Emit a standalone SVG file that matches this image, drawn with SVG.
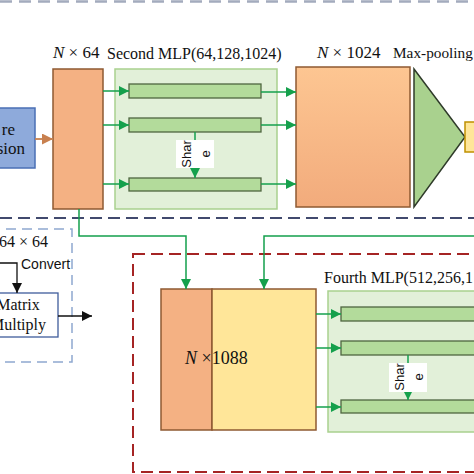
<svg xmlns="http://www.w3.org/2000/svg" width="474" height="474" viewBox="0 0 474 474">
<defs>
<style>
.serif{font-family:"Liberation Serif","Times New Roman",serif;fill:#111}
.sans{font-family:"Liberation Sans",Arial,sans-serif;fill:#111}
.orange{fill:#f4b183;stroke:#8e5a32;stroke-width:1.5}
.yellow{fill:#ffe699;stroke:#8e5a32;stroke-width:1.5}
.mlp{fill:#e2f0d9;stroke:#a9d18e;stroke-width:1.5}
.bar{fill:#b3db9b;stroke:#4f6640;stroke-width:1.3}
.g{stroke:#15a04c;stroke-width:1.5;fill:none}
.k{stroke:#111;stroke-width:1.3;fill:none}
</style>
<marker id="ga" viewBox="0 0 10 10" refX="10" refY="5" markerWidth="11" markerHeight="10" markerUnits="userSpaceOnUse" orient="auto"><path d="M0,0 L10,5 L0,10 z" fill="#15a04c"/></marker>
<marker id="oa" viewBox="0 0 10 10" refX="10" refY="5" markerWidth="11" markerHeight="11" markerUnits="userSpaceOnUse" orient="auto"><path d="M0,0 L10,5 L0,10 z" fill="#c8804f"/></marker>
<marker id="ka" viewBox="0 0 10 10" refX="10" refY="5" markerWidth="11" markerHeight="10" markerUnits="userSpaceOnUse" orient="auto"><path d="M0,0 L10,5 L0,10 z" fill="#111"/></marker>
<linearGradient id="og" x1="0" y1="0" x2="0" y2="1"><stop offset="0" stop-color="#fdc692"/><stop offset="1" stop-color="#f2ab7c"/></linearGradient>
</defs>
<rect width="474" height="474" fill="#fff"/>
<g id="frames" fill="none">
<line x1="0" y1="1.5" x2="474" y2="1.5" stroke="#a3abbd" stroke-width="2.5" stroke-dasharray="12 7"/>
<line x1="0" y1="218" x2="474" y2="218" stroke="#414a6e" stroke-width="2" stroke-dasharray="12 6"/>
<rect x="-10" y="229" width="82" height="133" stroke="#8fa8d0" stroke-width="1.5" stroke-dasharray="10 6"/>
<rect x="133" y="254" width="360" height="218" stroke="#a52424" stroke-width="2" stroke-dasharray="12 6"/>
</g>
<g id="feature">
<rect x="-40" y="108" width="75" height="60" fill="#8eaadb" stroke="#4a6fb5" stroke-width="1.5"/>
<text class="serif" font-size="17" x="15" y="135" text-anchor="end">re</text>
<text class="serif" font-size="17" x="25" y="154" text-anchor="end">sion</text>
</g>
<g id="n64">
<text class="serif" font-size="17" x="53" y="58"><tspan font-style="italic">N</tspan> × 64</text>
<rect class="orange" x="53" y="69" width="50" height="140"/>
</g>
<g id="mlp2">
<text class="serif" font-size="16" x="107" y="59">Second MLP(64,128,1024)</text>
<rect class="mlp" x="115" y="69" width="162" height="140"/>
<rect class="bar" x="129" y="84" width="132" height="14"/>
<rect class="bar" x="129" y="118" width="132" height="14"/>
<rect class="bar" x="129" y="178" width="132" height="13"/>
</g>
<g id="n1024">
<text class="serif" font-size="17" x="317" y="58"><tspan font-style="italic">N</tspan> × 1024</text>
<rect x="296" y="67" width="114" height="140" fill="url(#og)" stroke="#8e5a32" stroke-width="1.5"/>
</g>
<g id="maxpool">
<text class="serif" font-size="15.3" x="393" y="58">Max-pooling</text>
<path d="M414,69 L465,137 L414,207 z" fill="#a9d18e" stroke="#2f3b2a" stroke-width="1.5"/>
</g>
<g id="global">
<rect x="465" y="122" width="20" height="30" fill="#ffe699" stroke="#bf9000" stroke-width="1.5"/>
</g>
<g id="transform">
<text class="serif" font-size="16" x="48" y="247" text-anchor="end">64 × 64</text>
<text class="sans" font-size="14" x="21" y="269">Convert</text>
<rect x="-20" y="293" width="78" height="44" fill="#fff" stroke="#3f5c9c" stroke-width="1.3"/>
<text class="serif" font-size="16" x="18" y="310" text-anchor="middle">Matrix</text>
<text class="serif" font-size="16" x="18" y="330" text-anchor="middle">Multiply</text>
</g>
<g id="n1088">
<rect class="orange" x="161" y="289" width="51" height="141"/>
<rect class="yellow" x="212" y="289" width="104" height="141"/>
<text class="serif" font-size="18" x="185" y="364"><tspan font-style="italic">N</tspan> ×1088</text>
</g>
<g id="mlp4">
<text class="serif" font-size="16" x="324" y="283">Fourth MLP(512,256,1</text>
<rect class="mlp" x="328" y="291" width="160" height="141"/>
<rect class="bar" x="341" y="307" width="140" height="14"/>
<rect class="bar" x="341" y="341" width="140" height="14"/>
<rect class="bar" x="341" y="400" width="140" height="13"/>
</g>
<g id="connectors">
<line x1="35" y1="139" x2="53" y2="139" stroke="#c8804f" stroke-width="1.8" marker-end="url(#oa)"/>
<line class="g" x1="103" y1="91" x2="129" y2="91" marker-end="url(#ga)"/>
<line class="g" x1="103" y1="125" x2="129" y2="125" marker-end="url(#ga)"/>
<line class="g" x1="103" y1="184" x2="129" y2="184" marker-end="url(#ga)"/>
<line class="g" x1="261" y1="92" x2="296" y2="92" marker-end="url(#ga)"/>
<line class="g" x1="261" y1="125" x2="296" y2="125" marker-end="url(#ga)"/>
<line class="g" x1="261" y1="184" x2="296" y2="184" marker-end="url(#ga)"/>
<line class="g" x1="195" y1="132" x2="195" y2="178" marker-end="url(#ga)"/>
<path class="g" d="M79,209 V236 H186 V289" marker-end="url(#ga)"/>
<path class="g" d="M480,236 H264 V289" marker-end="url(#ga)"/>
<line class="g" x1="316" y1="314" x2="341" y2="314" marker-end="url(#ga)"/>
<line class="g" x1="316" y1="348" x2="341" y2="348" marker-end="url(#ga)"/>
<line class="g" x1="316" y1="407" x2="341" y2="407" marker-end="url(#ga)"/>
<line class="g" x1="408" y1="355" x2="408" y2="400" marker-end="url(#ga)"/>
<path class="k" d="M-2,263 H17 V293" marker-end="url(#ka)"/>
<line class="k" x1="58" y1="316" x2="92" y2="316" marker-end="url(#ka)"/>
</g>
<g id="share1">
<rect x="176" y="140" width="38" height="28" fill="#fff"/>
<text class="sans" font-size="13" transform="translate(191,154) rotate(-90)" text-anchor="middle">Shar</text>
<text class="sans" font-size="13" transform="translate(210,154) rotate(-90)" text-anchor="middle">e</text>
</g>
<g id="share2">
<rect x="389" y="363" width="38" height="29" fill="#fff"/>
<text class="sans" font-size="13" transform="translate(404,377) rotate(-90)" text-anchor="middle">Shar</text>
<text class="sans" font-size="13" transform="translate(423,377) rotate(-90)" text-anchor="middle">e</text>
</g>
</svg>
